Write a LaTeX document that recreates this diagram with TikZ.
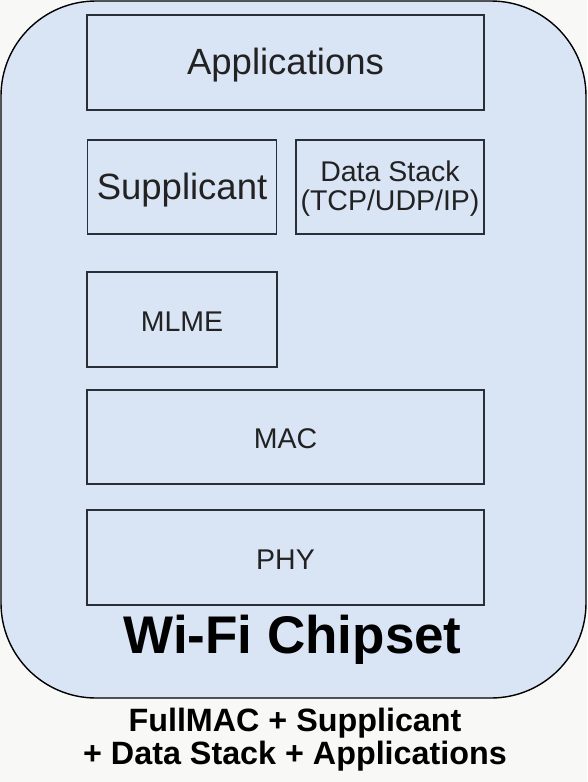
\documentclass[tikz,border=0pt]{standalone}
\usepackage{fontspec}
\setmainfont{Liberation Sans}
\definecolor{bgc}{HTML}{F8F8F6}
\definecolor{chipfill}{HTML}{D9E4F5}
\definecolor{boxline}{HTML}{2A2E36}
\definecolor{boxtext}{HTML}{222222}
\begin{document}
\begin{tikzpicture}[x=1pt,y=-1pt,
  chip/.style={draw=black, line width=1.4pt, fill=chipfill},
  layerbox/.style={draw=boxline, line width=1.1pt, inner sep=0pt, text=boxtext, align=center},
  bigtxt/.style={font=\fontsize{36.5}{40}\selectfont},
  midtxt/.style={font=\fontsize{28.5}{32}\selectfont},
  title/.style={font=\bfseries\fontsize{53}{58}\selectfont, text=black, inner sep=0pt},
  caption/.style={font=\bfseries\fontsize{32.3}{33}\selectfont, text=black, align=center, inner sep=0pt}]
\fill[bgc] (0,0) rectangle (587,782);
\useasboundingbox (0,0) rectangle (587,782);
\draw[chip] (96,1) -- (491,1) .. controls (543.5,1) and (586,43.5) .. (586,96)
  -- (586,603) .. controls (586,655.5) and (543.5,698) .. (491,698)
  -- (96,698) .. controls (43.5,698) and (1,655.5) .. (1,603)
  -- (1,96) .. controls (1,43.5) and (43.5,1) .. (96,1) -- cycle;
\node[layerbox, minimum width=397pt, minimum height=95pt] (app) at (285.5,62.5) {};
\node[bigtxt, text=boxtext] at ([yshift=-3pt]app.center) {Applications};
\node[layerbox, minimum width=189pt, minimum height=94pt] (supp) at (182,187) {};
\node[bigtxt, text=boxtext] at ([yshift=-3pt]supp.center) {Supplicant};
\node[layerbox, minimum width=188pt, minimum height=94pt] (data) at (390,187) {};
\node[midtxt, text=boxtext, align=center] at ([yshift=-2pt]data.center) {Data Stack\\[-3pt](TCP/UDP/IP)};
\node[layerbox, minimum width=190pt, minimum height=95pt] (mlme) at (182,319.5) {};
\node[midtxt, text=boxtext] at ([yshift=-2pt]mlme.center) {MLME};
\node[layerbox, minimum width=397pt, minimum height=94pt] (mac) at (285.5,437) {};
\node[midtxt, text=boxtext] at ([yshift=-2pt]mac.center) {MAC};
\node[layerbox, minimum width=397pt, minimum height=95pt] (phy) at (285.5,557.5) {};
\node[midtxt, text=boxtext] at ([yshift=-2pt]phy.center) {PHY};
\node[title] (wifi) at (292.5,640) {Wi-Fi Chipset};
\node[caption] (cap) at (295,740) {FullMAC + Supplicant\\+ Data Stack + Applications};
\end{tikzpicture}
\end{document}
